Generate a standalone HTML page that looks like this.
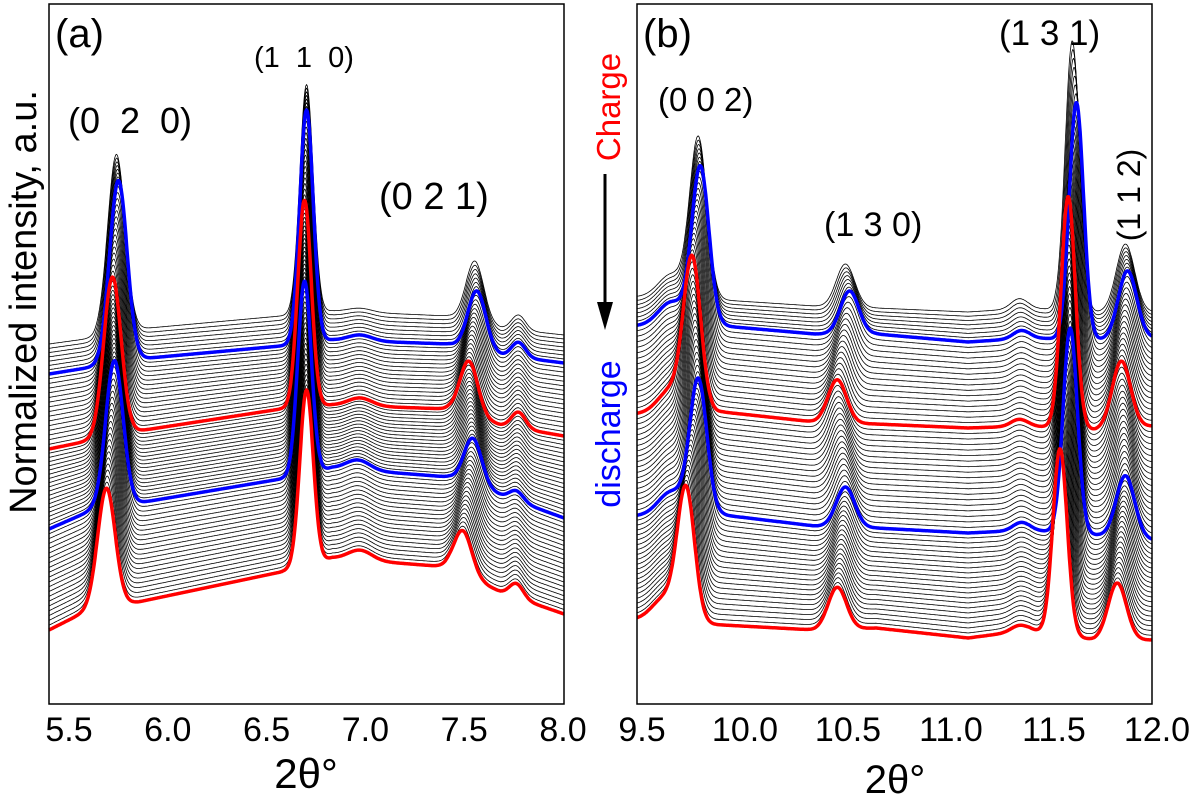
<!DOCTYPE html>
<html><head><meta charset="utf-8">
<style>
html,body{margin:0;padding:0;background:#fff;}
svg{display:block;}
text{font-family:"Liberation Sans",sans-serif;fill:#000;}
</style></head>
<body>
<svg id="chart" width="1200" height="794" viewBox="0 0 1200 794" xmlns="http://www.w3.org/2000/svg">
  <g id="panelA"></g>
  <g id="panelB"></g>
  <rect x="49" y="4" width="515" height="700" fill="none" stroke="#000" stroke-width="1.5"/>
  <rect x="637" y="4" width="515" height="700" fill="none" stroke="#000" stroke-width="1.5"/>
  <text transform="translate(36,302) rotate(-90)" text-anchor="middle" font-size="38">Normalized intensity, a.u.</text>
  <text x="55" y="47" font-size="40">(a)</text>
  <text x="643" y="47" font-size="40">(b)</text>
  <text x="68" y="133" font-size="36" xml:space="preserve">(0  2  0)</text>
  <text x="254" y="67" font-size="29" xml:space="preserve">(1  1  0)</text>
  <text x="379" y="209" font-size="38">(0 2 1)</text>
  <text x="658" y="111" font-size="33">(0 0 2)</text>
  <text x="824" y="236" font-size="34">(1 3 0)</text>
  <text x="999" y="45" font-size="35">(1 3 1)</text>
  <text transform="translate(1140,195) rotate(-90)" text-anchor="middle" font-size="32">(1 1 2)</text>
  <text transform="translate(620,107) rotate(-90)" text-anchor="middle" font-size="33" style="fill:#ff0000">Charge</text>
  <line x1="605" y1="174" x2="605" y2="305" stroke="#000" stroke-width="3"/>
  <polygon points="597,302 613,302 605,330" fill="#000"/>
  <text transform="translate(620,434) rotate(-90)" text-anchor="middle" font-size="34" style="fill:#0000ff">discharge</text>
  <g id="ticksA"></g>
  <g id="ticksB"></g>
  <text x="306" y="788" text-anchor="middle" font-size="42">2θ°</text>
  <text x="895" y="793" text-anchor="middle" font-size="40">2θ°</text>
</svg>
<script>
// ---------- data ----------
const nCurves = 64;
const keyIndex = [0, 21, 40, 56, 63];
const keyColor = ["#ff0000", "#0000ff", "#ff0000", "#0000ff", "#000000"];

// Panel (a)
const ticksA = [5.5, 6.0, 6.5, 7.0, 7.5, 8.0];
const bgXA = [5.4, 5.62, 5.85, 6.57, 6.83, 7.42, 7.68, 8.0];
const bgA = [
  [74, 96, 102, 132, 146, 137, 112, 90],
  [175, 194, 201, 225, 236, 227, 209, 186],
  [255, 264, 273, 295, 299, 295, 279, 268],
  [330, 337, 345, 358, 364, 360, 349, 341],
  [360, 366, 375, 388, 393, 388, 376, 369]
];
const centersA = [
  [5.69, 6.70, 6.97, 7.49, 7.76],
  [5.73, 6.69, 6.96, 7.54, 7.76],
  [5.72, 6.69, 6.97, 7.52, 7.77],
  [5.75, 6.70, 6.97, 7.56, 7.77],
  [5.74, 6.70, 6.97, 7.55, 7.77]
];
const heightsA = [
  [118, 175, 10, 43, 14],
  [146, 193, 10, 47, 10],
  [159, 207, 8, 54, 16],
  [182, 233, 6, 59, 15],
  [179, 229, 4, 61, 15]
];
const widthsA = [0.044, 0.034, 0.06, 0.045, 0.035];

// Panel (b)
const ticksB = [9.5, 10.0, 10.5, 11.0, 11.5, 12.0];
const bgXB = [9.48, 9.9, 10.35, 10.65, 11.1, 11.4, 11.72, 12.0];
const bgB = [
  [84, 79, 74, 76, 66, 74, 64, 64],
  [188, 189, 178, 176, 171, 174, 169, 164],
  [290, 292, 282, 280, 276, 278, 274, 278],
  [378, 378, 370, 370, 362, 366, 364, 366],
  [407, 404, 398, 396, 392, 396, 392, 392]
];
const centersB = [
  [9.62, 9.72, 10.46, 11.35, 11.55, 11.83],
  [9.65, 9.78, 10.50, 11.36, 11.60, 11.87],
  [9.65, 9.75, 10.46, 11.35, 11.59, 11.85],
  [9.65, 9.79, 10.52, 11.36, 11.63, 11.88],
  [9.65, 9.78, 10.50, 11.35, 11.61, 11.87]
];
const heightsB = [
  [24, 130, 42, 6, 186, 57],
  [24, 134, 40, 8, 205, 62],
  [24, 150, 43, 7, 232, 67],
  [24, 158, 43, 8, 237, 68],
  [24, 160, 43, 10, 270, 68]
];
const widthsB = [0.065, 0.042, 0.045, 0.04, 0.035, 0.045];

// ---------- rendering ----------
const NS = "http://www.w3.org/2000/svg";
function yScale(v) { return 704 - v; }
function makeX(d0, d1, p0, p1) { return v => p0 + (v - d0) / (d1 - d0) * (p1 - p0); }
const xA = makeX(5.4, 8.0, 49, 564);
const xB = makeX(9.48, 12.0, 637, 1152);

function lerp(a, b, t) { return a + (b - a) * t; }
function lerpArr(a, b, t) { return a.map((v, i) => lerp(v, b[i], t)); }
function bgAt(bx, by, x) {
  for (let i = 0; i < bx.length - 1; i++) {
    if (x <= bx[i + 1]) { const t = (x - bx[i]) / (bx[i + 1] - bx[i]); return lerp(by[i], by[i + 1], t); }
  }
  return by[by.length - 1];
}
function curveParams(idx, bg, cen, hts) {
  let k = 0;
  while (k < keyIndex.length - 2 && idx > keyIndex[k + 1]) k++;
  const t = (idx - keyIndex[k]) / (keyIndex[k + 1] - keyIndex[k]);
  return { bg: lerpArr(bg[k], bg[k + 1], t), c: lerpArr(cen[k], cen[k + 1], t), h: lerpArr(hts[k], hts[k + 1], t) };
}
function pathFor(p, bx, wid, xs, d0, d1) {
  let d = "";
  for (let x = d0; x <= d1 + 1e-9; x += 0.004) {
    let v = bgAt(bx, p.bg, x);
    for (let j = 0; j < p.c.length; j++) {
      const z = (x - p.c[j]) / wid[j];
      v += p.h[j] * Math.exp(-0.5 * z * z);
    }
    d += (d ? "L" : "M") + xs(x).toFixed(1) + "," + yScale(v).toFixed(1);
  }
  return d;
}
function drawPanel(gid, bx, bg, cen, hts, wid, xs, d0, d1, tag) {
  const g = document.getElementById(gid);
  const colored = [];
  for (let i = nCurves - 1; i >= 0; i--) {
    const p = curveParams(i, bg, cen, hts);
    const ki = keyIndex.indexOf(i);
    const col = ki >= 0 ? keyColor[ki] : "#000";
    const path = document.createElementNS(NS, "path");
    path.setAttribute("d", pathFor(p, bx, wid, xs, d0, d1));
    path.setAttribute("fill", "none");
    path.setAttribute("stroke", col);
    const isCol = ki >= 0 && col !== "#000000";
    path.setAttribute("stroke-width", isCol ? 3.5 : 0.8);
    path.setAttribute("stroke-linejoin", "round");
    
    
    if (isCol) colored.push(path); else g.appendChild(path);
  }
  colored.forEach(p => g.appendChild(p));
}
drawPanel("panelA", bgXA, bgA, centersA, heightsA, widthsA, xA, 5.4, 8.0, "a");
drawPanel("panelB", bgXB, bgB, centersB, heightsB, widthsB, xB, 9.48, 12.0, "b");

function drawTicks(gid, ticks, xs) {
  const g = document.getElementById(gid);
  ticks.forEach(t => {
    const tx = document.createElementNS(NS, "text");
    tx.setAttribute("x", xs(t));
    tx.setAttribute("y", 741);
    tx.setAttribute("text-anchor", "middle");
    tx.setAttribute("font-size", "34");
    tx.textContent = t.toFixed(1);
    
    
    g.appendChild(tx);
  });
}
drawTicks("ticksA", ticksA, makeX(5.5, 8.0, 69, 563));
drawTicks("ticksB", ticksB, makeX(9.5, 12.0, 642, 1157));
</script>
</body></html>
